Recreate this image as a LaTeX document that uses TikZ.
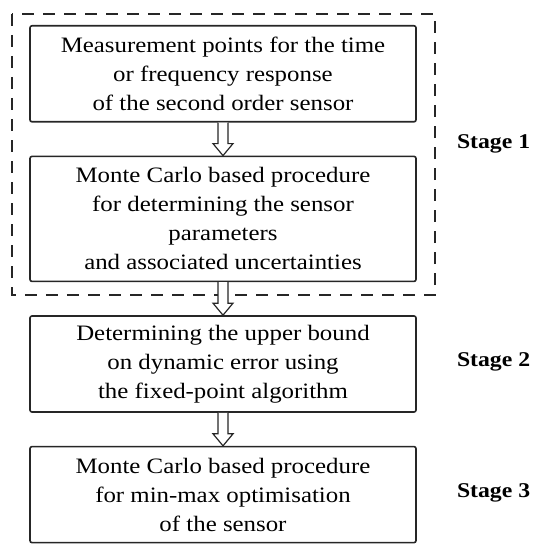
\documentclass[tikz,border=0pt]{standalone}
\usepackage{fontspec}
\setmainfont[FakeStretch=1.13]{Liberation Serif}
\usetikzlibrary{calc, positioning}

\begin{document}
\begin{tikzpicture}[x=1bp, y=-1bp,
    stepbox/.style={draw=black!85, line width=1.6bp, rounded corners=2bp,
        minimum width=386bp, inner sep=0pt, align=center,
        font=\fontsize{22bp}{29bp}\selectfont},
    stagelabel/.style={font=\fontsize{21bp}{24bp}\selectfont\bfseries, inner sep=0pt},
    frameline/.style={draw=black!85, line width=1.8bp, dash pattern=on 12bp off 9bp},
    arrowline/.style={draw=black!85, line width=1.2bp, fill=white, line join=miter}]

    \NewDocumentCommand{\hollowarrow}{ m m }{
        \draw[arrowline] ($(#1.south)+(-5,0)$) -- ($(#2.north)+(-5,-12)$)
            -- ($(#2.north)+(-10,-12)$) -- (#2.north) -- ($(#2.north)+(10,-12)$)
            -- ($(#2.north)+(5,-12)$) -- ($(#1.south)+(5,0)$);
    }

    \useasboundingbox (0,0) rectangle (535,550);

    %% Boxes
    \node[stepbox, minimum height=96bp, anchor=north] (box1) at (223,25)
        {Measurement points for the time\\or frequency response\\of the second order sensor};
    \node[stepbox, minimum height=125bp, below=33bp of box1] (box2)
        {Monte Carlo based procedure\\for determining the sensor\\parameters\\and associated uncertainties};
    \node[stepbox, minimum height=96bp, below=33bp of box2] (box3)
        {Determining the upper bound\\on dynamic error using\\the fixed-point algorithm};
    \node[stepbox, minimum height=96bp, below=33bp of box3] (box4)
        {Monte Carlo based procedure\\for min-max optimisation\\of the sensor};

    %% Stage 1 frame
    \draw[frameline] ($(box1.north west)+(-17,-11)$) rectangle ($(box2.south east)+(18,13)$);

    %% Arrows
    \hollowarrow{box1}{box2}
    \hollowarrow{box2}{box3}
    \hollowarrow{box3}{box4}

    % Stages
    \node[stagelabel, anchor=base west] (stage1) at ($(box2.north east)+(40,-7)$) {Stage 1};
    \node[stagelabel, anchor=base west] (stage2) at ($(box3.east)+(40,2)$) {Stage 2};
    \node[stagelabel, anchor=base west] (stage3) at ($(box4.east)+(40,3)$) {Stage 3};

\end{tikzpicture}
\end{document}
